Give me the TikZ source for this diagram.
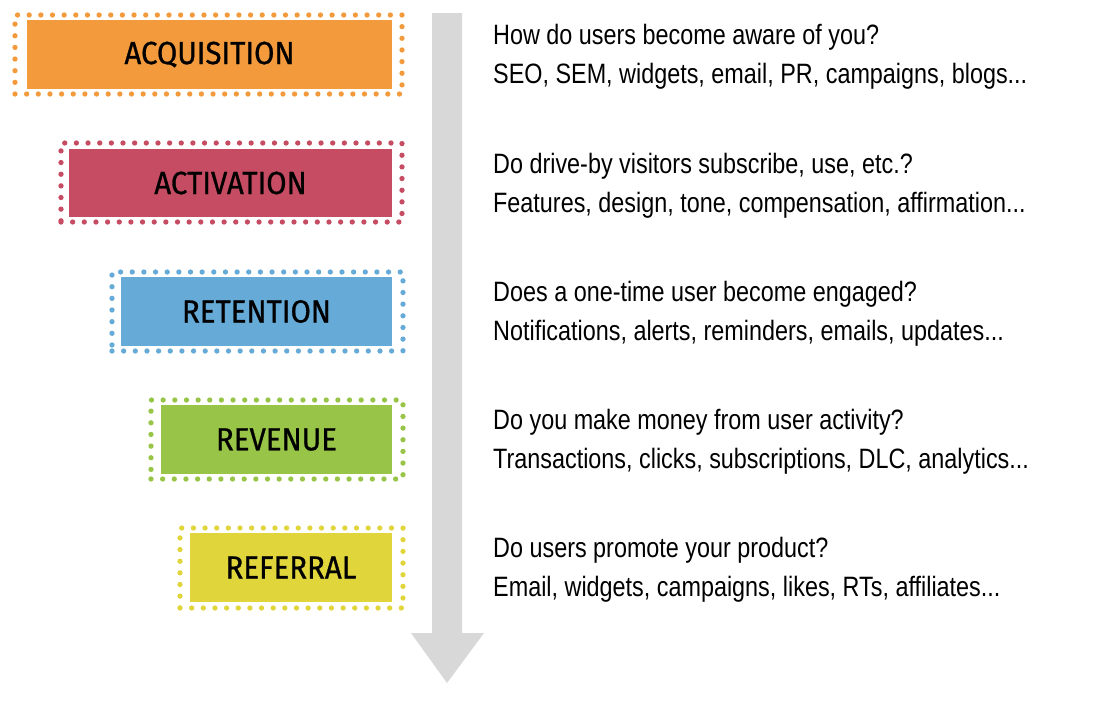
\documentclass[tikz,border=0pt]{standalone}
\usepackage{fontspec}
\newfontfamily\descfont[FakeStretch=0.835]{Liberation Sans}
\newfontfamily\labelfont[FakeStretch=0.92,FakeBold=0.8]{Fira Sans}
\definecolor{cacq}{HTML}{F39B3C}
\definecolor{cact}{HTML}{C64C63}
\definecolor{cret}{HTML}{66AAD8}
\definecolor{crev}{HTML}{98C548}
\definecolor{cref}{HTML}{E0D63C}
\definecolor{carrow}{HTML}{D8D8D8}
\begin{document}
\begin{tikzpicture}[x=1pt,y=-1pt,
  dotbox/.style={draw, line width=5.3pt, line cap=round, dash pattern=on 0pt off 11.65pt, inner sep=0pt, minimum width=#1},
  fillbox/.style={inner sep=0pt, text=black, font=\labelfont\fontsize{32}{32}\selectfont},
  desc/.style={inner sep=0pt, anchor=base west, font=\descfont\fontsize{28}{30}\selectfont}
]
\useasboundingbox (0,0) rectangle (1094,710);
% arrow
\fill[carrow] (432,13) -- (462,13) -- (462,633) -- (484,633) -- (447,683) -- (411,633) -- (432,633) -- cycle;
% boxes
\node[dotbox=387pt, draw=cacq, minimum height=79pt] (acqd) at (208.5,54.5) {};
\node[fillbox, fill=cacq, minimum width=365pt, minimum height=69pt] (acq) at (209.5,54.5) {ACQUISITION};
\node[dotbox=341pt, draw=cact, minimum height=79pt] (actd) at (231.5,182.5) {};
\node[fillbox, fill=cact, minimum width=323pt, minimum height=68pt] (act) at (230.5,183) {ACTIVATION};
\node[dotbox=291pt, draw=cret, minimum height=79pt] (retd) at (257.5,311.5) {};
\node[fillbox, fill=cret, minimum width=271pt, minimum height=69pt] (ret) at (256.5,311.5) {RETENTION};
\node[dotbox=252pt, draw=crev, minimum height=79pt] (revd) at (277,439.5) {};
\node[fillbox, fill=crev, minimum width=231pt, minimum height=69pt] (rev) at (276.5,439.5) {REVENUE};
\node[dotbox=223pt, draw=cref, minimum height=80pt] (refd) at (291.5,568) {};
\node[fillbox, fill=cref, minimum width=202pt, minimum height=69pt] (ref) at (291,567.5) {REFERRAL};
% descriptions
\node[desc] (q1) at (493,44.5) {How do users become aware of you?};
\node[desc] (a1) at (493,83.5) {SEO, SEM, widgets, email, PR, campaigns, blogs...};
\node[desc] (q2) at (493,173) {Do drive-by visitors subscribe, use, etc.?};
\node[desc] (a2) at (493,212) {Features, design, tone, compensation, affirmation...};
\node[desc] (q3) at (493,301.5) {Does a one-time user become engaged?};
\node[desc] (a3) at (493,340.5) {Notifications, alerts, reminders, emails, updates...};
\node[desc] (q4) at (493,429.5) {Do you make money from user activity?};
\node[desc] (a4) at (493,468.5) {Transactions, clicks, subscriptions, DLC, analytics...};
\node[desc] (q5) at (493,557.5) {Do users promote your product?};
\node[desc] (a5) at (493,596.5) {Email, widgets, campaigns, likes, RTs, affiliates...};
\end{tikzpicture}
\end{document}
